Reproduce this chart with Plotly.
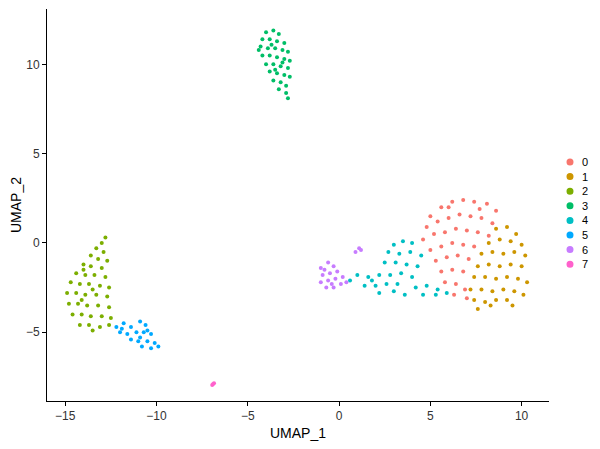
import plotly.graph_objects as go

labels = ["0","1","2","3","4","5","6","7"]
colors = ["#F8766D","#CD9600","#7CAE00","#00BE67","#00BFC4","#00A9FF","#C77CFF","#FF61CC"]

c0 = [(5.0,1.5),(5.6,2.0),(6.2,2.3),(6.8,2.4),(7.4,2.3),(8.1,2.2),(8.6,1.8),(4.8,0.9),(5.4,1.2),(6.0,1.4),(6.6,1.6),(7.2,1.5),(7.8,1.4),(8.4,1.1),(4.6,0.2),(5.2,0.5),(5.8,0.6),(6.4,0.8),(7.0,0.7),(7.6,0.6),(8.2,0.4),(5.0,-0.4),(5.6,-0.2),(6.2,0.0),(6.8,-0.1),(7.4,-0.2),(5.3,-1.0),(5.9,-0.8),(6.5,-0.7),(7.1,-0.9),(5.6,-1.6),(6.2,-1.5),(6.8,-1.6),(5.8,-2.2),(6.4,-2.3),(6.9,-2.6),(6.3,-2.9),(7.0,-3.1),(6.0,2.0),(7.7,1.9)]
c1 = [(8.6,0.8),(9.2,0.9),(9.7,0.5),(8.2,0.0),(8.8,0.2),(9.4,0.1),(10.0,-0.1),(7.8,-0.6),(8.4,-0.5),(9.0,-0.6),(9.6,-0.5),(10.2,-0.7),(7.6,-1.3),(8.2,-1.2),(8.8,-1.3),(9.4,-1.2),(10.0,-1.3),(7.4,-1.9),(8.0,-1.9),(8.6,-2.0),(9.2,-1.9),(9.8,-2.0),(10.3,-2.2),(7.2,-2.6),(7.8,-2.6),(8.4,-2.7),(9.0,-2.6),(9.6,-2.7),(10.1,-2.9),(7.4,-3.2),(8.0,-3.3),(8.6,-3.2),(9.2,-3.2),(7.6,-3.7),(8.3,-3.5),(9.5,-3.5)]
c2 = [(-12.8,0.3),(-13.0,0.0),(-13.3,-0.3),(-12.9,-0.5),(-13.6,-0.7),(-13.2,-0.9),(-12.7,-1.0),(-14.0,-1.2),(-13.6,-1.3),(-13.0,-1.4),(-14.4,-1.7),(-13.9,-1.8),(-13.4,-1.8),(-12.8,-1.9),(-14.7,-2.2),(-14.2,-2.3),(-13.7,-2.3),(-13.1,-2.4),(-12.6,-2.5),(-14.9,-2.8),(-14.4,-2.8),(-13.9,-2.9),(-13.3,-2.9),(-12.7,-3.0),(-14.8,-3.4),(-14.3,-3.4),(-13.8,-3.5),(-13.2,-3.5),(-12.6,-3.6),(-14.6,-4.0),(-14.1,-4.0),(-13.6,-4.1),(-13.0,-4.1),(-12.5,-4.2),(-14.2,-4.6),(-13.7,-4.6),(-13.1,-4.7),(-12.6,-4.6),(-13.5,-4.9),(-14.0,-1.5),(-13.5,-2.6),(-14.1,-3.2)]
c3 = [(-4.0,11.8),(-3.6,11.9),(-3.3,11.7),(-4.2,11.4),(-3.8,11.4),(-3.4,11.3),(-3.0,11.2),(-4.3,11.0),(-3.9,10.9),(-3.5,10.9),(-3.1,10.8),(-2.8,10.7),(-4.2,10.5),(-3.8,10.5),(-3.4,10.4),(-3.0,10.3),(-2.7,10.2),(-4.0,10.0),(-3.6,10.0),(-3.2,9.9),(-2.8,9.8),(-3.8,9.6),(-3.4,9.5),(-3.0,9.4),(-2.7,9.3),(-3.6,9.1),(-3.2,9.0),(-2.9,8.8),(-3.3,8.6),(-2.9,8.4),(-2.8,8.1),(-4.4,10.8),(-3.7,11.1),(-3.1,10.1),(-3.5,9.7)]
c4 = [(3.0,-0.1),(3.5,0.1),(4.0,0.0),(2.7,-0.5),(3.3,-0.6),(3.9,-0.5),(4.5,-0.7),(2.5,-1.1),(3.1,-1.1),(3.7,-1.2),(4.3,-1.3),(1.0,-1.8),(1.6,-1.9),(2.2,-1.8),(2.8,-1.8),(3.4,-1.7),(4.0,-1.9),(1.4,-2.4),(2.0,-2.4),(2.6,-2.3),(3.2,-2.3),(4.2,-2.5),(4.8,-2.4),(5.4,-2.6),(2.2,-2.8),(3.0,-2.7),(4.6,-2.9),(5.3,-2.9),(5.9,-2.8),(1.8,-2.1),(3.6,-2.9),(0.6,-2.1)]
c5 = [(-12.2,-4.7),(-11.8,-4.5),(-11.4,-4.7),(-10.9,-4.4),(-10.6,-4.6),(-12.0,-5.0),(-11.6,-5.1),(-11.1,-5.0),(-10.7,-5.0),(-10.3,-5.1),(-11.4,-5.4),(-11.0,-5.5),(-10.5,-5.5),(-10.1,-5.6),(-10.8,-5.8),(-10.3,-5.9),(-9.9,-5.8),(-11.9,-4.8),(-10.9,-5.3),(-10.5,-4.9)]
c6 = [(-1.0,-1.4),(-0.6,-1.1),(-0.3,-1.3),(-0.9,-1.8),(-0.5,-1.7),(-0.1,-1.6),(-1.0,-2.2),(-0.6,-2.1),(-0.2,-2.0),(0.2,-1.9),(-0.7,-2.5),(-0.3,-2.5),(0.1,-2.3),(0.4,-2.2),(0.9,-0.5),(1.1,-0.3),(1.2,-0.4),(-0.8,-1.5),(-0.4,-2.3)]
c7 = [(-6.9,-7.9),(-6.95,-7.95),(-6.85,-7.85)]
clusters = [c0,c1,c2,c3,c4,c5,c6,c7]

fig = go.Figure()
for lab, col, pts in zip(labels, colors, clusters):
    fig.add_trace(go.Scatter(x=[p[0] for p in pts], y=[p[1] for p in pts], mode="markers",
                             name=lab, marker=dict(color=col, size=4), showlegend=False))

# legend drawn manually at the right (paper coords = plot area)
PW, PH = 502, 392
for i, (lab, col) in enumerate(zip(labels, colors)):
    yc = 161 + i * 14.6
    yp = 1 - (yc - 8) / PH
    xp = (569 - 46) / PW
    fig.add_shape(type="circle", xref="paper", yref="paper",
                  x0=xp - 3.5/PW, x1=xp + 3.5/PW, y0=yp - 3.5/PH, y1=yp + 3.5/PH,
                  fillcolor=col, line=dict(width=0))
    fig.add_annotation(x=(579 - 46)/PW, y=yp, xref="paper", yref="paper", text=lab, showarrow=False,
                       xanchor="left", yanchor="middle", font=dict(size=11, color="black"))

ax = dict(showgrid=False, zeroline=False, showline=True, linecolor="black", linewidth=1,
          ticks="outside", ticklen=4, tickcolor="black", tickfont=dict(color="#333", size=12),
          mirror=False, automargin=False)
fig.update_xaxes(**ax, range=[-16.0, 11.5], tickvals=[-15,-10,-5,0,5,10], title=dict(text="UMAP_1", font=dict(size=14, color="black"), standoff=5))
fig.update_yaxes(**ax, range=[-8.85, 13.1], tickvals=[-5,0,5,10], title=dict(text="UMAP_2", font=dict(size=14, color="black"), standoff=5))
fig.update_layout(width=600, height=449, plot_bgcolor="white", paper_bgcolor="white",
                  font=dict(family="Liberation Sans, Arial"), showlegend=False,
                  margin=dict(l=39, r=59, t=1, b=56))
fig.write_html("out.html")
